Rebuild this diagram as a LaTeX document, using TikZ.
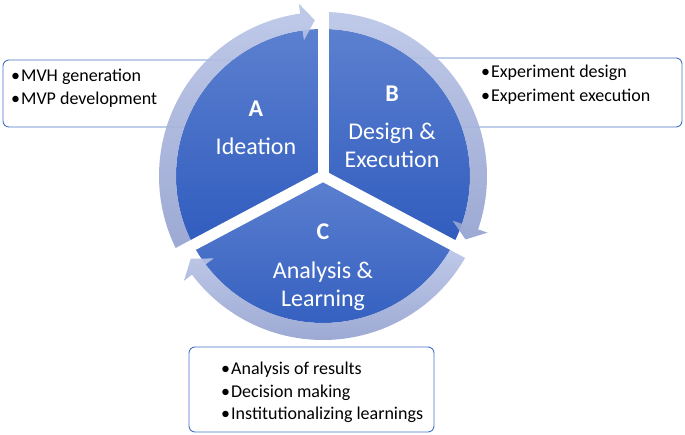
\documentclass[tikz,border=0pt]{standalone}
\usepackage{fontspec}
\setmainfont{Carlito}
\usetikzlibrary{positioning}

\definecolor{sectop}{RGB}{92,128,208}
\definecolor{secbot}{RGB}{48,92,190}
\definecolor{ringtop}{RGB}{186,197,231}
\definecolor{ringbot}{RGB}{148,162,207}
\definecolor{boxline}{RGB}{68,114,196}

\tikzset{
	sector/.style={top color=sectop, bottom color=secbot},
	ringarrow/.style={top color=ringtop, bottom color=ringbot, fill opacity=0.92},
	gapline/.style={draw=white, line width=11pt},
	infobox/.style={draw=boxline, fill=white, rounded corners=6pt, line width=0.9pt},
	bulletline/.style={anchor=base west, inner sep=0pt, font=\fontsize{18}{22}\selectfont},
	letter/.style={anchor=base, inner sep=0pt, text=white, font=\fontsize{24}{29}\selectfont\bfseries},
	phase/.style={anchor=base, inner sep=0pt, text=white, font=\fontsize{24}{28}\selectfont},
}

% arc arrow, clockwise from #1 to the tip at #2
\newcommand{\cyclearrow}[2]{%
	\shade[ringarrow] (#1:164pt) arc[start angle=#1, end angle=#2+5, radius=164pt]
		-- (#2+5:174pt) -- (#2:156pt) -- (#2+5:137pt) -- (#2+5:147pt)
		arc[start angle=#2+5, end angle=#1, radius=147pt] -- cycle;}

\begin{document}
\begin{tikzpicture}[x=1pt,y=1pt]
	\useasboundingbox (0,0) rectangle (685,435);

	% boxes behind the circle
	\draw[infobox] (3,308) rectangle (280,375);
	\draw[infobox] (370,308) rectangle (682,377);
	\draw[infobox] (189,3) rectangle (434,88);

	\foreach \txt [count=\i] in {MVH generation, MVP development}
		\node[bulletline] (ideas\i) at (11,353-23*\i+23) {\textbullet\hspace{1pt}\txt};
	\foreach \txt [count=\i] in {Experiment design, Experiment execution}
		\node[bulletline] (exper\i) at (481,357-24*\i+24) {\textbullet\hspace{1pt}\txt};
	\foreach \txt [count=\i] in {Analysis of results, Decision making, Institutionalizing learnings}
		\node[bulletline] (learn\i) at (221,60-22.5*\i+22.5) {\textbullet\hspace{1pt}\txt};

	% the cycle
	\begin{scope}[shift={(323,259)}]
		\shade[sector] (0,0) -- (208:147pt) arc[start angle=208, end angle=90, radius=147pt] -- cycle;
		\shade[sector] (0,0) -- (90:147pt) arc[start angle=90, end angle=-28, radius=147pt] -- cycle;
		\shade[sector] (0,0) -- (332:147pt) arc[start angle=332, end angle=208, radius=147pt] -- cycle;

		\cyclearrow{207}{93}
		\cyclearrow{89}{-24}
		\cyclearrow{331}{212}

		\draw[gapline] (0,0) -- (90:170pt);
		\draw[gapline] (0,0) -- (208:170pt);
		\draw[gapline] (0,0) -- (332:170pt);
	\end{scope}

	% second line's baseline sets the place of the two-line labels
	\node[letter] (lettera) at (256,318) {A};
	\node[phase] (ideation) at (256,280) {Ideation};
	\node[letter] (letterb) at (392,333) {B};
	\node[phase, align=center] (design) at (392,267) {Design \&\\Execution};
	\node[letter] (letterc) at (323,195) {C};
	\node[phase, align=center] (analysis) at (323,128) {Analysis \&\\Learning};
\end{tikzpicture}
\end{document}
